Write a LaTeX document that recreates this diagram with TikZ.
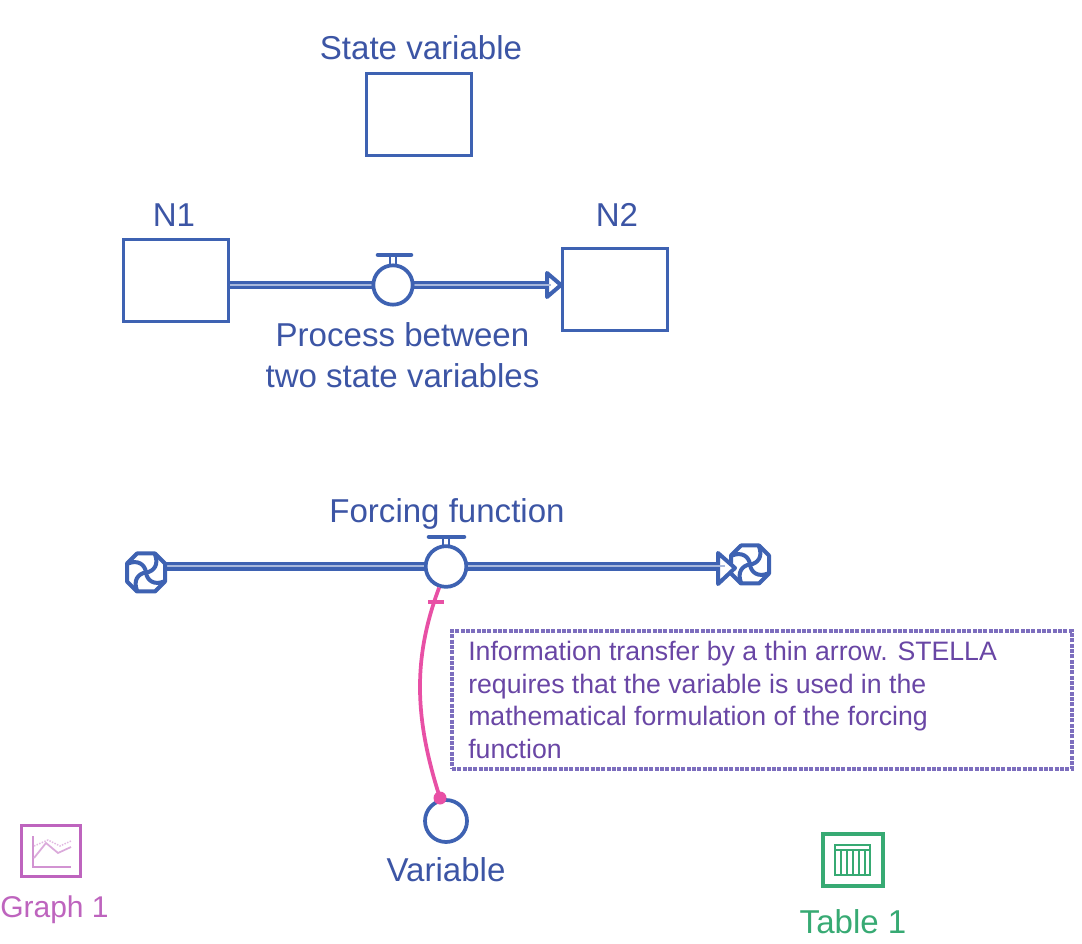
\documentclass[tikz,border=0pt]{standalone}
\usepackage{fontspec}
\setmainfont{Liberation Sans}
\usetikzlibrary{calc}
\definecolor{sblue}{RGB}{62,98,178}
\definecolor{tblue}{RGB}{60,85,165}
\definecolor{spink}{RGB}{232,80,165}
\definecolor{spurple}{RGB}{105,70,165}
\definecolor{dotpurple}{RGB}{125,110,190}
\definecolor{gpink}{RGB}{190,100,190}
\definecolor{tgreen}{RGB}{55,170,115}
\tikzset{
  lab/.style={text=tblue,font=\fontsize{24.8}{31}\selectfont,inner sep=0pt,align=center},
  stock/.style={draw=sblue,line width=2.7pt,fill=white,inner sep=0pt,minimum width=78.75pt,minimum height=61.5pt},
  valve/.style={circle,draw=sblue,line width=2.8pt,fill=white,inner sep=0pt},
  cloud/.style={circle,inner sep=0pt,minimum size=28pt},
  pipeo/.style={draw=sblue,line width=6.6pt},
  pipei/.style={draw=white!55!sblue,line width=1.5pt},
  bar/.style={draw=sblue,line width=3.4pt,line cap=round},
  stem/.style={draw=sblue,line width=1.4pt},
  head/.style={draw=sblue,line width=3pt,fill=white,line join=round},
  infoarc/.style={draw=spink,line width=2.8pt},
  swirl/.style={draw=sblue,line width=3pt,line cap=round},
  octa/.style={draw=sblue,line width=3pt,line join=round,fill=white}
}
\newcommand{\cloudglyph}[1]{%
  \begin{scope}[shift={(#1)}]
  \draw[octa] (-9,-19) -- (9,-19) -- (19,-9) -- (19,9) -- (9,19) -- (-9,19) -- (-19,9) -- (-19,-9) -- cycle;
  \foreach \a in {0,90,180,270}{
    \draw[swirl,rotate=\a] (0,0) .. controls (8,-1) and (13,-8) .. (9,-18);
  }
  \end{scope}%
}
\begin{document}
\begin{tikzpicture}[x=0.75pt,y=-0.75pt]
\useasboundingbox (0,0) rectangle (1082,944);
\clip (0,0) rectangle (1082,944);
\fill[white] (0,0) rectangle (1082,944);

% top stock
\node[lab] (tstate) at (421,48) {State variable};
\node[stock] (state) at (419,114.5) {};

% N1 -> N2
\node[lab] (tn1) at (174,215) {N1};
\node[lab] (tn2) at (617,215) {N2};
\node[stock] (n1) at (176,280.5) {};
\node[stock] (n2) at (615,289.5) {};
\coordinate (p1) at (n1.east |- 0,285);
\coordinate (p1e) at (548,285);
\draw[pipeo] (p1) -- (p1e);
\draw[pipei] (p1) -- (p1e);
\draw[head] (547,273) -- (561,285) -- (547,297) -- cycle;
\draw[pipeo] (535,285) -- (547,285);
\draw[pipei] (535,285) -- (551,285);
\node[valve,minimum size=29.5pt] (v1) at (393,285) {};
\draw[stem] (390,256) -- (390,266) (396,256) -- (396,266);
\draw[bar] (378,255) -- (411,255);
\node[lab] (tproc) at (402.5,355) {Process between\\two state variables};

% forcing function
\node[lab] (tforce) at (447,514) {Forcing function};
\node[cloud] (c1) at (146,572.5) {};
\node[cloud] (c2) at (750,564.5) {};
\node[valve,minimum size=30.5pt] (v2) at (446,566.5) {};
\coordinate (p2e) at (718,566.5);
\draw[pipeo] (c1.east |- 0,566.5) -- (v2.west);
\draw[pipei] (c1.east |- 0,566.5) -- (v2.west);
\draw[pipeo] (v2.east) -- (p2e);
\draw[pipei] (v2.east) -- (p2e);
\draw[stem] (443,538) -- (443,547) (449,538) -- (449,547);
\draw[bar] (429,537) -- (464,537);
\cloudglyph{c1}
\cloudglyph{c2}
\draw[head] (718,553) -- (735,568) -- (718,584) -- cycle;
\draw[pipei] (708,566.5) -- (725,566.5);

% variable + info arrow
\node[valve,minimum size=31.5pt] (var) at (446,821) {};
\node[lab] (tvar) at (446,870) {Variable};
\coordinate (a0) at (440,798);
\draw[infoarc] (a0) .. controls (415,720) and (412,660) .. (v2.252);
\fill[spink] (a0) circle (6.5);
\draw[spink,line width=2.6pt] (428,602) -- (444,602);

% info box
\node[draw=dotpurple,densely dotted,line width=3pt,inner sep=0pt,minimum width=465pt,minimum height=103.5pt] (info) at (762,700) {};
\node[anchor=north west,text=spurple,inner sep=0pt,align=left,font=\fontsize{20}{24.5}\selectfont] (tinfo) at (468,641) {Information transfer by a thin arrow. STELLA\\requires that the variable is used in the\\mathematical formulation of the forcing\\function};

% graph
\node[draw=gpink,line width=2.6pt,inner sep=0pt,minimum width=44.5pt,minimum height=38.5pt] (g) at (51,851) {};
\draw[gpink!70,line width=1.6pt] (33,836) -- (33,867) -- (71,867);
\draw[gpink!55,line width=1.3pt] (34,858) -- (46,843) -- (58,853) -- (71,847);
\draw[gpink!45,line width=1.1pt,densely dotted] (34,846) -- (48,840) -- (60,846) -- (71,841);
\node[text=gpink,inner sep=0pt,font=\fontsize{22.5}{28}\selectfont] (tg) at (54.5,910) {Graph 1};

% table
\node[draw=tgreen,line width=3pt,inner sep=0pt,minimum width=45pt,minimum height=39pt] (tb) at (852.5,859.5) {};
\node[draw=tgreen,line width=1.6pt,inner sep=0pt,minimum width=26pt,minimum height=23pt] (tbi) at (852.5,860) {};
\draw[tgreen,line width=1.4pt] (835.5,850) -- (869.5,850);
\foreach \x in {841,847,853,859,865}{\draw[tgreen,line width=1.3pt] (\x,850) -- (\x,875);}
\node[text=tgreen,inner sep=0pt,font=\fontsize{24.8}{31}\selectfont] (ttb) at (853,922) {Table 1};
\end{tikzpicture}
\end{document}
